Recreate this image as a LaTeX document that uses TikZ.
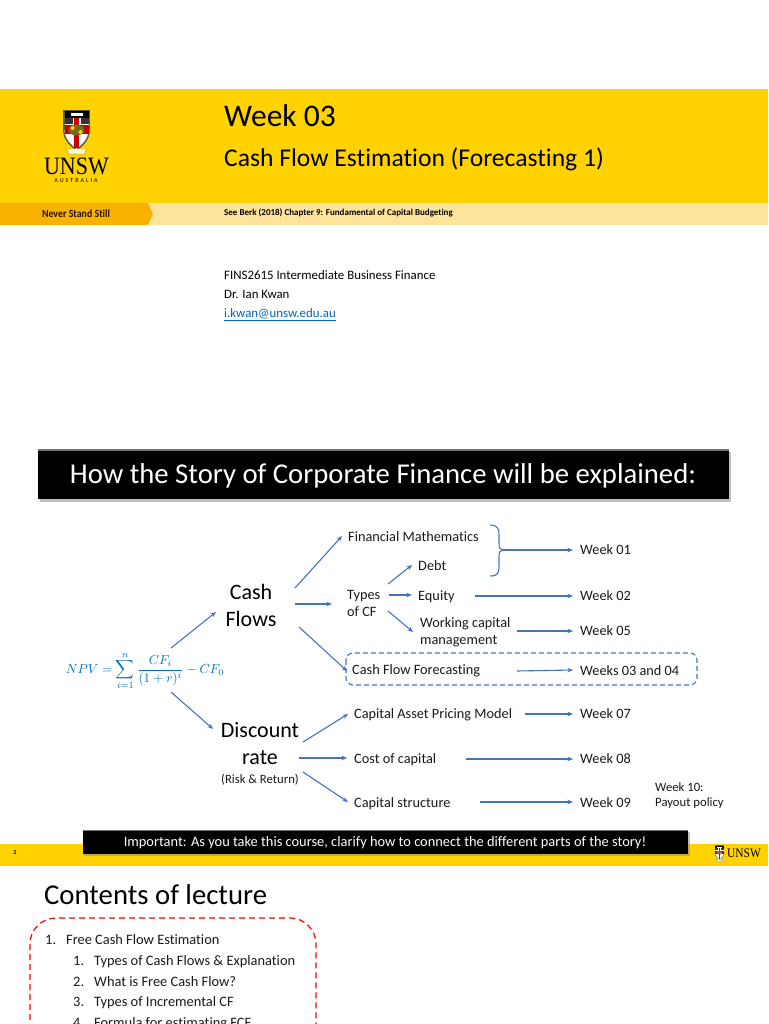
\documentclass[tikz,border=0pt]{standalone}
\usepackage{fontspec}
\usepackage{graphicx}
\setmainfont[Ligatures=NoCommon]{Carlito}
\newfontfamily\logoserif{Liberation Serif}
\usetikzlibrary{arrows.meta}
\definecolor{unswyellow}{HTML}{FFD200}
\definecolor{striplight}{HTML}{FEE39B}
\definecolor{striporange}{HTML}{F9B200}
\definecolor{flow}{HTML}{4472C4}
\definecolor{mathblue}{HTML}{0070C0}
\definecolor{linkblue}{HTML}{0563C1}
\definecolor{inktext}{HTML}{1A1A1A}
\newcommand{\fsz}[2]{\fontsize{#1}{#2}\selectfont}
\tikzset{
  x=1pt,y=-1pt,
  lbl/.style={anchor=base west,inner sep=0pt,text=inktext,font=\fsz{14.3}{17}},
  big/.style={anchor=center,inner sep=0pt,text=black,align=center,font=\fsz{22}{27}},
  flowarrow/.style={draw=flow,line width=1.1pt,-{Stealth[length=5.5pt,width=4.5pt]}},
  flowthick/.style={flowarrow,line width=1.6pt},
  banner/.style={fill=black,draw=none},
  bannershadow/.style={fill=black!45,opacity=.55,draw=none},
  plain/.style={anchor=base west,inner sep=0pt,text=black},
  crest/.pic={
    \fill[black!65] (-13.5,-21) rectangle (13.5,-1);
    \fill[black!65] (-13.5,-1) .. controls (-13,10) and (-6,15) .. (0,20) .. controls (6,15) and (13,10) .. (13.5,-1) -- cycle;
    \fill[white] (-12,-19.5) rectangle (12,-1);
    \fill[white] (-12,-1) .. controls (-11.5,9) and (-5,13.5) .. (0,18) .. controls (5,13.5) and (11.5,9) .. (12,-1) -- cycle;
    \fill[black] (-12,-19.5) rectangle (12,-13);
    \fill[white] (-6,-18) rectangle (6,-14.5);
    \fill[red!80!black] (-2.6,-13) rectangle (2.6,17);
    \fill[red!80!black] (-12,-5.5) rectangle (12,3);
    \fill[black!80] (-12,-13) rectangle (-4,-7);
    \fill[black!80] (4,-13) rectangle (12,-7);
    \fill[olive!75!black] (0,-1) ellipse (8 and 5.5);
    \fill[yellow!70!orange] (-4,-3) circle (2);
    \fill[yellow!70!orange] (4,1) circle (2);
    \fill[white!85!yellow,draw=black!50,line width=.3pt] (-10,18) -- (10,18) -- (8,23) -- (-8,23) -- cycle;
  }
}
\begin{document}
\begin{tikzpicture}
\useasboundingbox (0,0) rectangle (768,1024);
\clip (0,0) rectangle (768,1024);
\fill[white] (0,0) rectangle (768,1024);

% ---- Title slide
\fill[unswyellow] (0,89) rectangle (768,203);
\fill[striplight] (0,203) rectangle (768,225);
\fill[striporange] (0,203) -- (148,203) -- (153,214) -- (148,225) -- (0,225) -- cycle;
\pic at (76.5,131) {crest};
\node[inner sep=0pt,text=black] (unswtext) at (76.5,166) {\scalebox{.88}[1]{\logoserif\fsz{25}{26}UNSW}};
\node[inner sep=0pt,text=black] (australia) at (76,181) {\fsz{6}{7}A\,\,U\,\,S\,\,T\,\,R\,\,A\,\,L\,\,I\,\,A};
\node[inner sep=0pt,text=black!85!orange] (stand) at (76,214) {\scalebox{.9}[1]{\fsz{11}{12}\bfseries Never Stand Still}};
\node[plain,font=\fsz{31.5}{36}] (week) at (224,127) {Week 03};
\node[plain,font=\fsz{25.6}{30}] (subtitle) at (224,167) {Cash Flow Estimation (Forecasting 1)};
\node[plain,font=\fsz{9}{11}\bfseries] (see) at (224,215) {See Berk (2018) Chapter 9: Fundamental of Capital Budgeting};
\node[plain,font=\fsz{12.85}{15}] (fins) at (224,279) {FINS2615 Intermediate Business Finance};
\node[plain,font=\fsz{12.85}{15}] (ian) at (224,298) {Dr. Ian Kwan};
\node[plain,font=\fsz{12.85}{15},text=linkblue] (mail) at (224,317) {\underline{i.kwan@unsw.edu.au}};

% ---- Second slide
\fill[bannershadow] (40,452) rectangle (731,502);
\fill[banner] (38,449) rectangle (729,499);
\fill[black!55] (38,449) rectangle (729,450.5);
\node[inner sep=0pt,text=white,font=\fsz{28.7}{34}] (story) at (383,476) {How the Story of Corporate Finance will be explained:};

\node[inner sep=0pt,text=mathblue] (npv) at (145,671) {\scalebox{1.31}{$\displaystyle NPV=\sum_{i=1}^{n}\frac{CF_i}{(1+r)^i}-CF_0$}};
\node[big] (cash) at (251,605) {Cash\\Flows};
\node[big] (disc) at (260,744) {Discount\\rate};
\node[inner sep=0pt,text=inktext,font=\fsz{12.7}{15}] (risk) at (260,780) {(Risk \& Return)};

\node[lbl] (fm) at (348,541) {Financial Mathematics};
\node[lbl] (debt) at (418,570) {Debt};
\node[lbl] (equity) at (418,600) {Equity};
\node[lbl,anchor=west,align=left] (types) at (347,603) {Types\\of CF};
\node[lbl,anchor=west,align=left] (wc) at (420,632) {Working capital\\management};
\node[lbl] (cff) at (352,674.5) {Cash Flow Forecasting};
\node[lbl] (capm) at (354,718) {Capital Asset Pricing Model};
\node[lbl] (coc) at (354,763) {Cost of capital};
\node[lbl] (cs) at (354,807) {Capital structure};
\node[lbl] (w1) at (580,554) {Week 01};
\node[lbl] (w2) at (580,600) {Week 02};
\node[lbl] (w5) at (580,635) {Week 05};
\node[lbl] (w34) at (580,675) {Weeks 03 and 04};
\node[lbl] (w7) at (580,718) {Week 07};
\node[lbl] (w8) at (580,763) {Week 08};
\node[lbl] (w9) at (580,807) {Week 09};
\node[lbl,font=\fsz{12.7}{15},anchor=west,align=left] (w10) at (655,796) {Week 10:\\Payout policy};

\draw[flow,dashed,line width=1.1pt,dash pattern=on 5pt off 3pt,rounded corners=7pt] (346,653) rectangle (697,685);

\coordinate (brtip) at (503,550);
\draw[flow,line width=1.1pt] (490,525) .. controls (498,525) and (499,529) .. (499,535) -- (499,543) .. controls (499,548) and (500,550) .. (brtip) .. controls (500,550) and (499,552) .. (499,557) -- (499,566) .. controls (499,573) and (498,576) .. (490,576);
\draw[flowarrow] (brtip) -- ([shift={(-7,-4)}]w1.base west);

\draw[flowarrow] ([shift={(44,-17)}]cash.center) -- ([shift={(-6,-5)}]fm.base west);
\draw[flowarrow] ([shift={(44,-1)}]cash.center) -- ([shift={(-15,1)}]types.west);
\draw[flowarrow] ([shift={(48,22)}]cash.center) -- ([shift={(-5,-3.5)}]cff.base west);
\draw[flowarrow] ([shift={(41,-19)}]types.west) -- ([shift={(-6,-5)}]debt.base west);
\draw[flowthick] ([shift={(42,-8)}]types.west) -- ([shift={(-6,-5)}]equity.base west);
\draw[flowarrow] ([shift={(41,8)}]types.west) -- ([shift={(-7,0)}]wc.west);
\draw[flowthick] ([shift={(57,-4)}]equity.base west) -- ([shift={(-7,-4)}]w2.base west);
\draw[flowarrow] ([shift={(97,-1)}]wc.west) -- ([shift={(-7,-4)}]w5.base west);
\draw[flowarrow] ([shift={(165,-3.5)}]cff.base west) -- ([shift={(-7,-5)}]w34.base west);
\draw[flowarrow] ([shift={(26,-23)}]npv.center) -- ([shift={(-35,7)}]cash.center);
\draw[flowarrow] ([shift={(26,21)}]npv.center) -- ([shift={(-47,-15)}]disc.center);
\draw[flowarrow] ([shift={(43,-2)}]disc.center) -- ([shift={(-6,-4)}]capm.base west);
\draw[flowarrow] ([shift={(39,14)}]disc.center) -- ([shift={(-7,-5)}]coc.base west);
\draw[flowarrow] ([shift={(43,28)}]disc.center) -- ([shift={(-6,-5)}]cs.base west);
\draw[flowarrow] ([shift={(171,-4)}]capm.base west) -- ([shift={(-7,-4)}]w7.base west);
\draw[flowarrow] ([shift={(112,-4)}]coc.base west) -- ([shift={(-7,-4)}]w8.base west);
\draw[flowarrow] ([shift={(126,-5)}]cs.base west) -- ([shift={(-7,-5)}]w9.base west);

% ---- Footer of slide 2
\fill[unswyellow] (0,844) rectangle (768,866);
\fill[bannershadow] (84,832) rectangle (690,856);
\fill[black] (83,830) rectangle (688,854);
\fill[black!55] (83,830) rectangle (688,831.2);
\node[inner sep=0pt,text=white,font=\fsz{14.4}{17}] (important) at (385,842.5) {Important: As you take this course, clarify how to connect the different parts of the story!};
\node[inner sep=0pt,text=black,font=\fsz{6}{7}\bfseries] (pageno) at (15,853) {2};
\pic[scale=.36] at (719.5,853) {crest};
\node[inner sep=0pt,text=black] (unswsmall) at (744,853) {\scalebox{.88}[1]{\logoserif\fsz{13}{14}UNSW}};

% ---- Third slide
\node[plain,font=\fsz{28.7}{34}] (contents) at (44,904) {Contents of lecture};
\draw[red,line width=1.2pt,dash pattern=on 6pt off 4pt,rounded corners=26pt] (30,1120) -- (30,918) -- (316,918) -- (316,1120);
\node[lbl,font=\fsz{14.4}{17}] (n1) at (45,944) {1.};
\node[lbl,font=\fsz{14.4}{17}] (t1) at (66,944) {Free Cash Flow Estimation};
\node[lbl,font=\fsz{14.4}{17}] (n11) at (73,965) {1.};
\node[lbl,font=\fsz{14.4}{17}] (t11) at (94,965) {Types of Cash Flows \& Explanation};
\node[lbl,font=\fsz{14.4}{17}] (n12) at (73,986) {2.};
\node[lbl,font=\fsz{14.4}{17}] (t12) at (94,986) {What is Free Cash Flow?};
\node[lbl,font=\fsz{14.4}{17}] (n13) at (73,1006) {3.};
\node[lbl,font=\fsz{14.4}{17}] (t13) at (94,1006) {Types of Incremental CF};
\node[lbl,font=\fsz{14.4}{17}] (n14) at (73,1027) {4.};
\node[lbl,font=\fsz{14.4}{17}] (t14) at (94,1027) {Formula for estimating FCF};
\end{tikzpicture}
\end{document}
